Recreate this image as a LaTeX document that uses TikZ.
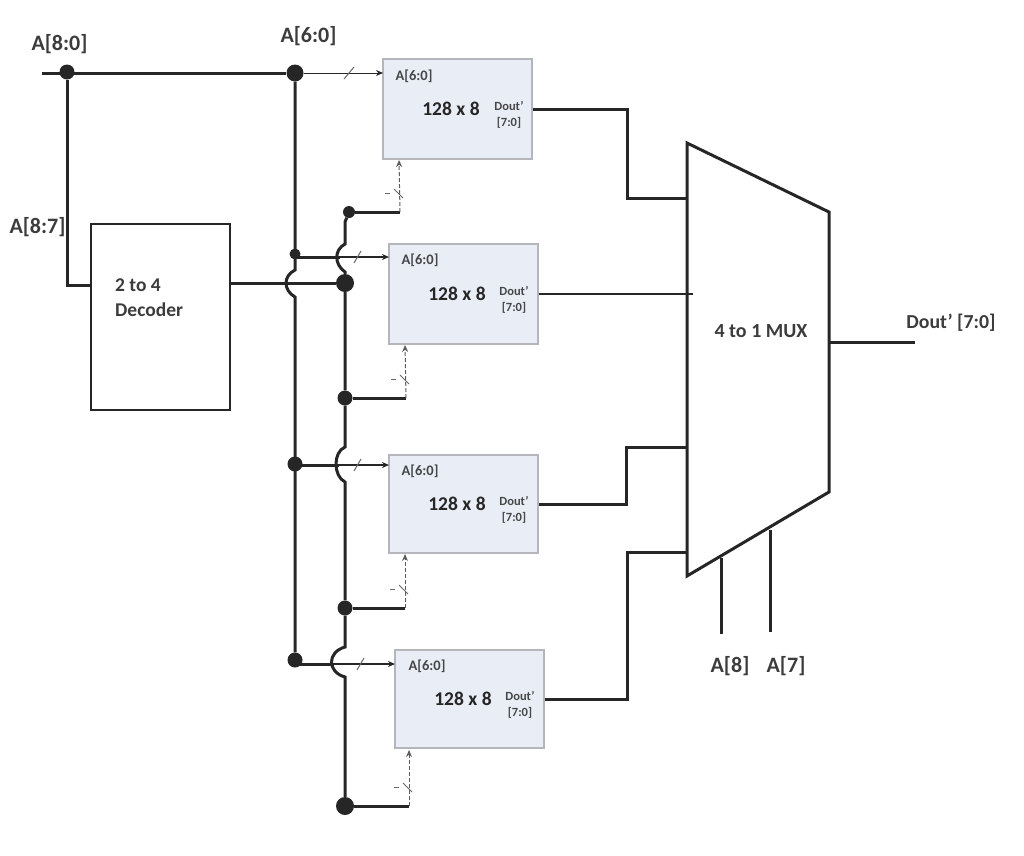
\documentclass[tikz,border=0pt]{standalone}
\usepackage{fontspec}
\setmainfont{Carlito}
\usetikzlibrary{arrows.meta}
\definecolor{ink}{HTML}{262626}
\definecolor{boxfill}{HTML}{E9EDF6}
\definecolor{boxline}{HTML}{B4B6BC}
\tikzset{
  x=1pt,y=-1pt,
  wire/.style={draw=ink,line width=3pt,line join=miter},
  thinwire/.style={draw=ink,line width=1pt,-{Stealth[length=7pt,width=6pt]}},
  selwire/.style={draw=ink!75,line width=1pt,dash pattern=on 4pt off 2pt,-{Stealth[length=7pt,width=6pt]}},
  slash/.style={draw=ink!70,line width=1pt},
  dot/.style={circle,fill=ink,draw=none,inner sep=0pt,minimum size=#1},
  membox/.style={rectangle,draw=boxline,fill=boxfill,line width=1.3pt,minimum width=149pt,minimum height=100pt,inner sep=0pt},
  lab/.style={font=\bfseries\fontsize{22}{25}\selectfont,text=ink!90,inner sep=0pt},
  small/.style={font=\bfseries\fontsize{14.5}{16}\selectfont,text=ink!85,inner sep=0pt},
  size/.style={font=\bfseries\fontsize{19.5}{22}\selectfont,text=ink,inner sep=0pt},
  dout/.style={font=\bfseries\fontsize{12.5}{16}\selectfont,text=ink!85,inner sep=0pt,align=center},
}
\begin{document}
\begin{tikzpicture}
\useasboundingbox (0,0) rectangle (1024,855);

% memory blocks
\node[membox] (b1) at (457.5,109) {};
\node[membox] (b2) at (463.5,294) {};
\node[membox,minimum height=98pt] (b3) at (463.5,504) {};
\node[membox,minimum height=98pt] (b4) at (469.5,699) {};

\node[small] (b1a) at (414,76) {A[6:0]};
\node[small] (b2a) at (420,260) {A[6:0]};
\node[small] (b3a) at (420,471) {A[6:0]};
\node[small] (b4a) at (427,666) {A[6:0]};
\node[size] (b1s) at (451,109) {128 x 8};
\node[size] (b2s) at (457,294) {128 x 8};
\node[size] (b3s) at (457,504) {128 x 8};
\node[size] (b4s) at (463,699) {128 x 8};
\node[dout] (b1d) at (509,115) {Dout'\\{}[7:0]};
\node[dout] (b2d) at (514,300) {Dout'\\{}[7:0]};
\node[dout] (b3d) at (514,510) {Dout'\\{}[7:0]};
\node[dout] (b4d) at (520,705) {Dout'\\{}[7:0]};

% decoder
\node[rectangle,draw=ink,line width=2.6pt,minimum width=139pt,minimum height=186pt,inner sep=0pt] (dec) at (160.5,317) {};
\node[lab,font=\bfseries\fontsize{19.5}{25}\selectfont,align=left,anchor=north west] (dect) at (115,279) {2 to 4\\Decoder};

% mux
\coordinate (m1) at (687,143);
\coordinate (m2) at (829,212);
\coordinate (m3) at (829,492);
\coordinate (m4) at (687,576);
\draw[wire,line join=miter] (m1) -- (m2) -- (m3) -- (m4) -- cycle;
\node[lab,font=\bfseries\fontsize{20}{22}\selectfont] (mt) at (761,331) {4 to 1 MUX};

% junction dots
\node[dot=15pt] (d0) at (67,72) {};
\node[dot=17pt] (d1) at (295,73) {};
\node[dot=11pt] (d2) at (295,254) {};
\node[dot=15pt] (d3) at (295,464) {};
\node[dot=15pt] (d4) at (295,660) {};
\node[dot=12pt] (s1) at (349,212) {};
\node[dot=18pt] (s0) at (345,283) {};
\node[dot=15pt] (s2) at (345,398) {};
\node[dot=15pt] (s3) at (345,608) {};
\node[dot=18pt] (s4) at (345,806) {};

% address bus
\coordinate (start) at (42,73);
\coordinate (e1) at (383,73);
\draw[wire] (start) -- (d1);
\draw[thinwire] (d1) -- (e1);
\coordinate (c0) at (67,285);
\draw[wire] (d0) -- (c0) -- (dec.west |- c0);

\coordinate (j0a) at (295,270);
\coordinate (j0b) at (295,297);
\draw[wire] (d1) -- (j0a) .. controls (283,276) and (283,290) .. (j0b) -- (d4);

% decoder output
\draw[wire] (dec.east |- s0) -- (s0);

% enable bus
\coordinate (j1a) at (345,244);
\coordinate (j1b) at (345,272);
\coordinate (j2a) at (345,447);
\coordinate (j2b) at (345,482);
\coordinate (j3a) at (345,647);
\coordinate (j3b) at (345,677);
\coordinate (s1b) at (345,222);
\draw[wire] (s1) -- (s1b) -- (j1a) .. controls (334,250) and (334,264) .. (j1b) -- (s0) -- (s2) -- (j2a) .. controls (333,452) and (333,476) .. (j2b) -- (s3) -- (j3a) .. controls (327,652) and (327,672) .. (j3b) -- (s4);

% address branches
\coordinate (e2) at (389,257);
\coordinate (m2a) at (340,257);
\coordinate (e3) at (389,465);
\coordinate (m3a) at (339,465);
\coordinate (e4) at (395,664);
\coordinate (m4a) at (334,664);
\draw[wire] (d2 |- m2a) -- (m2a);
\draw[thinwire,line width=1.5pt] (m2a) -- (e2);
\draw[wire] (d3 |- m3a) -- (m3a);
\draw[thinwire,line width=1.5pt] (m3a) -- (e3);
\draw[wire] (d4 |- m4a) -- (m4a);
\draw[thinwire,line width=1.5pt] (m4a) -- (e4);

% bus slashes
\coordinate (t1a) at (344,79); \coordinate (t1b) at (354,67);
\coordinate (t2a) at (354,263); \coordinate (t2b) at (361,251);
\coordinate (t3a) at (354,471); \coordinate (t3b) at (361,459);
\coordinate (t4a) at (357,670); \coordinate (t4b) at (364,658);
\draw[slash] (t1a) -- (t1b);
\draw[slash] (t2a) -- (t2b);
\draw[slash] (t3a) -- (t3b);
\draw[slash] (t4a) -- (t4b);

% enable branches
\coordinate (c1) at (400,212);
\coordinate (c2) at (406,398);
\coordinate (c3) at (405,608);
\coordinate (c4) at (409,806);
\coordinate (u1) at (399,160);
\coordinate (u2) at (405,345);
\coordinate (u3) at (405,554);
\coordinate (u4) at (409,750);
\draw[wire] (s1) -- (c1);
\draw[selwire] (c1) -- (u1);
\draw[wire] (s2) -- (c2);
\draw[selwire] (c2) -- (u2);
\draw[wire] (s3) -- (c3);
\draw[selwire] (c3) -- (u3);
\draw[wire] (s4) -- (c4);
\draw[selwire] (c4) -- (u4);
\draw[slash] (394,189) -- (403,198);
\draw[slash] (385,193) -- (390,193);
\draw[slash] (400,375) -- (409,384);
\draw[slash] (391,379) -- (396,379);
\draw[slash] (399,585) -- (408,594);
\draw[slash] (390,589) -- (395,589);
\draw[slash] (403,783) -- (412,792);
\draw[slash] (394,787) -- (399,787);

% data outputs
\coordinate (k1) at (627,109); \coordinate (p1) at (627,198); \coordinate (q1) at (687,198);
\coordinate (q2) at (693,294);
\coordinate (k3) at (626,504); \coordinate (p3) at (626,447); \coordinate (q3) at (687,447);
\coordinate (k4) at (627,699); \coordinate (p4) at (627,552); \coordinate (q4) at (687,552);
\draw[wire] (b1.east) -- (k1) -- (p1) -- (q1);
\draw[wire,line width=2.2pt] (b2.east) -- (q2);
\draw[wire] (b3.east) -- (k3) -- (p3) -- (q3);
\draw[wire] (b4.east) -- (k4) -- (p4) -- (q4);

% mux outputs and selects
\coordinate (o1) at (829,342); \coordinate (o2) at (915,342);
\draw[wire] (o1) -- (o2);
\coordinate (a8t) at (721,558); \coordinate (a8b) at (721,634);
\coordinate (a7t) at (770,530); \coordinate (a7b) at (770,632);
\draw[wire] (a8t) -- (a8b);
\draw[wire] (a7t) -- (a7b);

% labels
\node[lab] (l1) at (59.5,44) {A[8:0]};
\node[lab] (l2) at (308.5,36) {A[6:0]};
\node[lab] (l3) at (37.5,227) {A[8:7]};
\node[lab] (l4) at (730,666) {A[8]};
\node[lab] (l5) at (786,666) {A[7]};
\node[lab,font=\bfseries\fontsize{19.8}{22}\selectfont] (l6) at (951,323) {Dout' [7:0]};
\end{tikzpicture}
\end{document}
